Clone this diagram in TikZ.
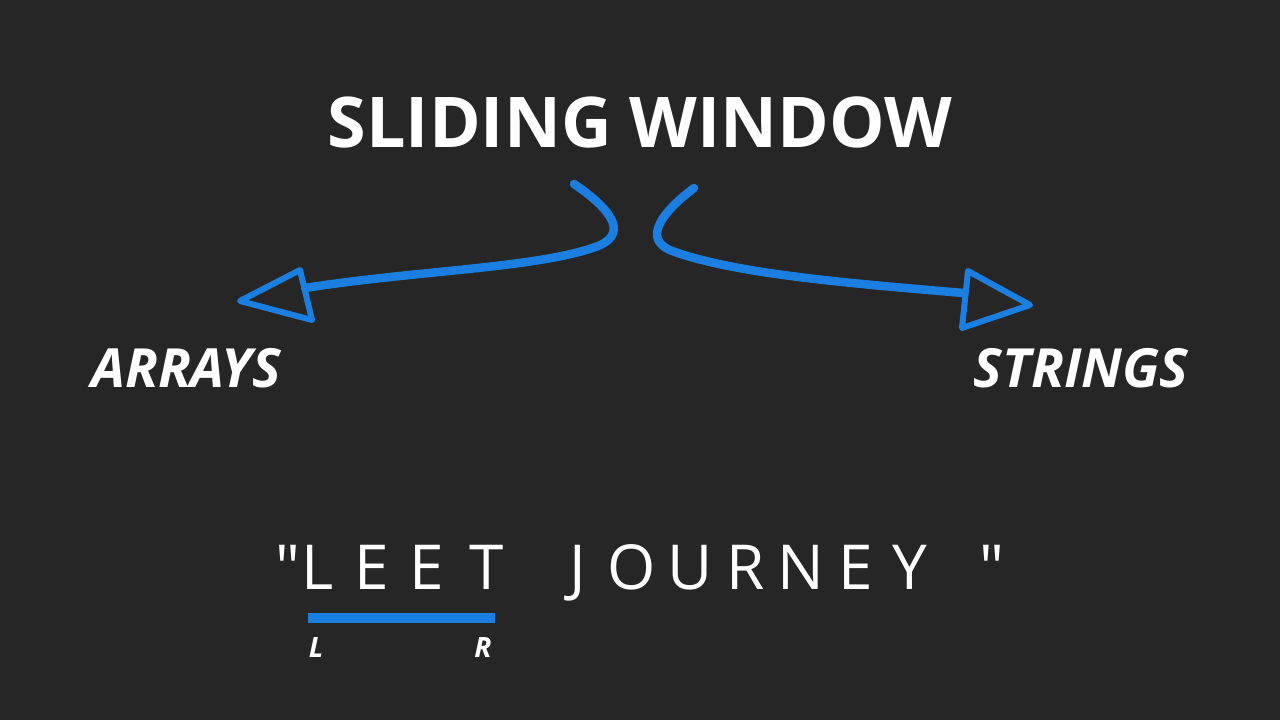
\documentclass[tikz,border=0pt]{standalone}
\usepackage{fontspec}
\setmainfont{Open Sans}
\begin{document}
\begin{tikzpicture}[x=1pt,y=-1pt,
  ttl/.style={text=white,font=\fontsize{70}{80}\selectfont\bfseries,inner sep=0},
  lbl/.style={text=white,font=\fontsize{54}{60}\selectfont\bfseries\itshape,inner sep=0},
  ch/.style={text=white,font=\fontsize{62}{70}\selectfont,inner sep=0,anchor=base},
  ptr/.style={text=white,font=\fontsize{28}{32}\selectfont\bfseries\itshape,inner sep=0},
  arr/.style={draw=blu,line width=8.5pt,line cap=round,line join=round},
  head/.style={draw=blu,line width=6pt,line join=round}]
\definecolor{bg}{HTML}{262626}
\definecolor{blu}{HTML}{1A7FE0}
\fill[bg] (0,0) rectangle (1280,720);
\useasboundingbox (0,0) rectangle (1280,720);
\node[ttl] (title) at (640,122) {SLIDING WINDOW};
\node[lbl] (arrays) at (186,368) {ARRAYS};
\node[lbl] (strings) at (1081,368) {STRINGS};
% left arrow
\coordinate (ls) at (574,184);
\coordinate (le) at (305,288);
\draw[arr] (ls) .. controls (605,205) and (632,232) .. (598,246) .. controls (540,268) and (420,270) .. (le);
\draw[head] (240,301) -- (300,270) -- (312,320) -- cycle;
% right arrow
\coordinate (rs) at (694,188);
\coordinate (re) at (963,293);
\draw[arr] (rs) .. controls (665,210) and (638,240) .. (675,252) .. controls (740,275) and (860,284) .. (re);
\draw[head] (1030,305) -- (968,271) -- (962,328) -- cycle;
% text with letters
\foreach \c/\x [count=\i] in {\textquotedbl/288,L/318,E/372,E/427,T/487,J/578,O/632,U/690,R/746,N/801,E/856,Y/910,\textquotedbl/992}
  \node[ch] (c\i) at (\x,589) {\c};
\coordinate (ua) at (308,618);
\coordinate (ub) at (495,618);
\draw[draw=blu,line width=10pt] (ua) -- (ub);
\node[ptr] (pl) at (316,647) {L};
\node[ptr] (pr) at (483,647) {R};
\end{tikzpicture}
\end{document}
